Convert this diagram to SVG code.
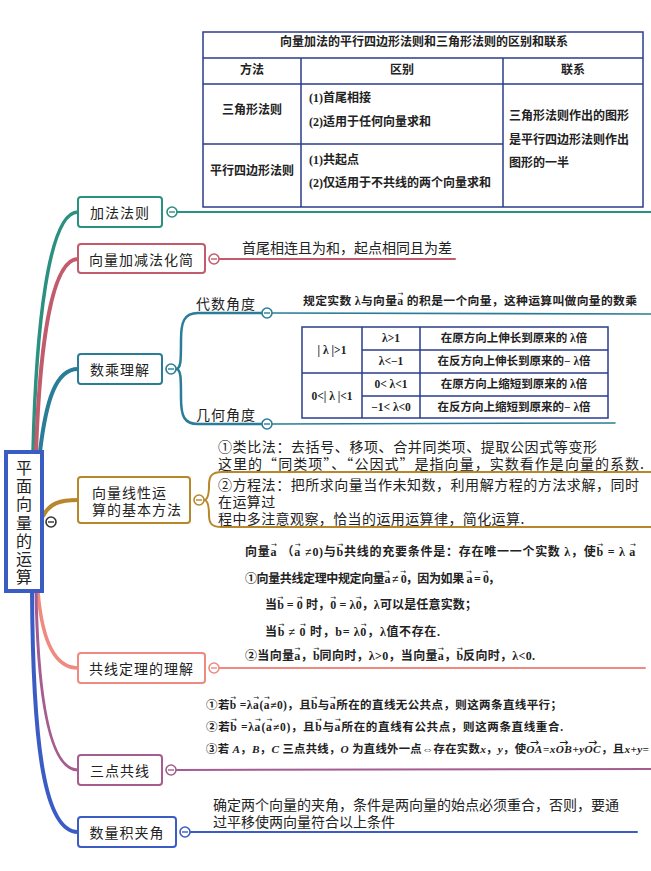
<svg xmlns="http://www.w3.org/2000/svg" width="651" height="871" viewBox="0 0 651 871">
<style>
.node{fill:#fff;stroke-width:2}
.nt{font-family:"Noto Sans CJK SC",sans-serif;font-size:14px;fill:#222;text-anchor:middle;dominant-baseline:central;letter-spacing:1px}
.tt{font-family:"Liberation Serif","Noto Sans CJK SC",serif;font-weight:bold;font-size:12px;fill:#222;dominant-baseline:central}
.st{font-family:"Liberation Serif","Noto Sans CJK SC",serif;font-weight:bold;font-size:11.5px;fill:#222;dominant-baseline:central}
.mt{font-family:"Liberation Serif","Noto Sans CJK SC",serif;font-weight:bold;font-size:12px;fill:#222;dominant-baseline:central}
.pt{font-family:"Noto Sans CJK SC",sans-serif;font-size:14px;fill:#222;dominant-baseline:central}
.ar{font-family:"DejaVu Sans",sans-serif;font-size:7px;font-weight:normal;font-style:normal;baseline-shift:7px}
.c{text-anchor:middle}
.tb{fill:none;stroke:#2b3d8f;stroke-width:1.5}
.col{fill:#fff;stroke-width:1.6}
.conn{fill:none;stroke-linecap:round}
</style>

<!-- connectors -->
<g id="connectors" class="conn">
  <path d="M33,452 C36,330 48,212 78,212" stroke="#2a9080" stroke-width="3.5"/>
  <path d="M36,452 C40,340 52,259 78,259" stroke="#c25b6c" stroke-width="4"/>
  <path d="M40,452 C46,400 56,369 78,369" stroke="#2a7d96" stroke-width="4"/>
  <path d="M43,516 C50,503 60,500 78,500" stroke="#b8862b" stroke-width="4"/>
  <path d="M38,592 C42,640 55,668 78,668" stroke="#ef8a80" stroke-width="3.5"/>
  <path d="M36,592 C38,700 50,770 78,770" stroke="#a45d8e" stroke-width="3"/>
  <path d="M32,592 C33,750 45,832 78,832" stroke="#3b5cc4" stroke-width="4"/>
  <path d="M177,212 L651,212" stroke="#2a9080" stroke-width="2"/>
  <path d="M219,259 L455,259" stroke="#c25b6c" stroke-width="2"/>
  <path d="M176,369 C181,369 181,360 181,340 C181,322 184,313 198,313 L262,313" stroke="#2a7d96" stroke-width="2.5"/>
  <path d="M176,369 C181,369 181,378 181,398 C181,416 184,424 198,424 L262,424" stroke="#2a7d96" stroke-width="2.5"/>
  <path d="M272,313 L651,314" stroke="#2a7d96" stroke-width="1.6"/>
  <path d="M272,424 L615,423" stroke="#2a7d96" stroke-width="1.6"/>
  <path d="M204,500 C209,500 209,490 209,485 C209,476 212,472 222,472 L651,472" stroke="#b8862b" stroke-width="2"/>
  <path d="M204,500 C209,500 209,510 209,515 C209,524 212,527 222,527 L651,527" stroke="#b8862b" stroke-width="2"/>
  <path d="M219,668 L645,668" stroke="#ef8a80" stroke-width="2"/>
  <path d="M176,770 L651,769" stroke="#a45d8e" stroke-width="2"/>
  <path d="M190,832 L637,832" stroke="#3b5cc4" stroke-width="2"/>
</g>

<!-- root -->
<g id="root">
  <rect x="6" y="452" width="36" height="139" fill="#fff" stroke="#3b5cc4" stroke-width="4"/>
  <text x="24" y="460" writing-mode="vertical-rl" style="font-family:'Noto Sans CJK SC',sans-serif;font-size:16px;fill:#222;letter-spacing:2.2px">平面向量的运算</text>
  <circle class="col" cx="51" cy="522" r="5" stroke="#333"/>
  <path d="M48,522 L54,522" stroke="#333" stroke-width="1.4"/>
</g>

<!-- 加法法则 -->
<g id="n-add">
  <rect class="node" x="78" y="197" width="84" height="30" rx="3" stroke="#2a9080"/>
  <text class="nt" x="120" y="212">加法法则</text>
  <circle class="col" cx="172" cy="212" r="5" stroke="#2a9080"/>
  <path d="M169,212 L175,212" stroke="#2a9080" stroke-width="1.4"/>
</g>

<!-- top table -->
<g id="table-add">
  <rect x="203" y="32" width="440" height="175" fill="#fff" class="tb"/>
  <path class="tb" d="M203,58 L643,58 M203,84 L643,84 M203,144 L503,144 M301,58 L301,207 M503,58 L503,207"/>
  <text class="tt c" x="424" y="42">向量加法的平行四边形法则和三角形法则的区别和联系</text>
  <text class="tt c" x="252" y="70">方法</text>
  <text class="tt c" x="402" y="70">区别</text>
  <text class="tt c" x="573" y="70">联系</text>
  <text class="tt c" x="252" y="110">三角形法则</text>
  <text class="tt c" x="252" y="171">平行四边形法则</text>
  <text class="tt" x="309" y="98">(1)首尾相接</text>
  <text class="tt" x="309" y="122">(2)适用于任何向量求和</text>
  <text class="tt" x="309" y="160">(1)共起点</text>
  <text class="tt" x="309" y="183">(2)仅适用于不共线的两个向量求和</text>
  <text class="tt" x="509" y="116">三角形法则作出的图形</text>
  <text class="tt" x="509" y="140">是平行四边形法则作出</text>
  <text class="tt" x="509" y="163">图形的一半</text>
</g>

<!-- 向量加减法化简 -->
<g id="n-simplify">
  <rect class="node" x="78" y="244" width="127" height="29" rx="3" stroke="#c25b6c"/>
  <text class="nt" x="141.5" y="258.5">向量加减法化简</text>
  <circle class="col" cx="214" cy="259" r="5" stroke="#c25b6c"/>
  <path d="M211,259 L217,259" stroke="#c25b6c" stroke-width="1.4"/>
  <text class="pt" x="242" y="247">首尾相连且为和，起点相同且为差</text>
</g>

<!-- 数乘理解 -->
<g id="n-scalar">
  <rect class="node" x="78" y="354" width="84" height="30" rx="3" stroke="#2a7d96"/>
  <text class="nt" x="120" y="369">数乘理解</text>
  <circle class="col" cx="171" cy="369" r="5" stroke="#2a7d96"/>
  <path d="M168,369 L174,369" stroke="#2a7d96" stroke-width="1.4"/>
</g>
<g id="n-alg">
  <text class="nt" x="226" y="303">代数角度</text>
  <circle class="col" cx="267" cy="313" r="5" stroke="#2a7d96"/>
  <path d="M264,313 L270,313" stroke="#2a7d96" stroke-width="1.4"/>
  <text class="st" x="303" y="301" style="font-size:11.8px" textLength="334" lengthAdjust="spacing">规定实数 λ与向量a<tspan class="ar" dx="-6.1">→</tspan> 的积是一个向量，这种运算叫做向量的数乘</text>
</g>
<g id="n-geo">
  <text class="nt" x="226" y="414">几何角度</text>
  <circle class="col" cx="267" cy="424" r="5" stroke="#2a7d96"/>
  <path d="M264,424 L270,424" stroke="#2a7d96" stroke-width="1.4"/>
</g>
<g id="table-scalar">
  <rect x="302" y="327" width="306" height="91" fill="#fff" class="tb"/>
  <path class="tb" d="M362,327 L362,418 M420,327 L420,418 M302,373 L608,373 M362,350 L608,350 M362,396 L608,396"/>
  <text class="st c" x="332" y="350">| λ |&gt;1</text>
  <text class="st c" x="332" y="396">0&lt;| λ |&lt;1</text>
  <text class="st c" x="391" y="338">λ&gt;1</text>
  <text class="st c" x="391" y="361">λ&lt;−1</text>
  <text class="st c" x="391" y="384">0&lt; λ&lt;1</text>
  <text class="st c" x="391" y="407">−1&lt; λ&lt;0</text>
  <text class="st c" x="514" y="338">在原方向上伸长到原来的 λ倍</text>
  <text class="st c" x="514" y="361">在反方向上伸长到原来的− λ倍</text>
  <text class="st c" x="514" y="384">在原方向上缩短到原来的 λ倍</text>
  <text class="st c" x="514" y="407">在反方向上缩短到原来的− λ倍</text>
</g>

<!-- 向量线性运算的基本方法 -->
<g id="n-linear">
  <rect class="node" x="78" y="477" width="112" height="46" rx="3" stroke="#b8862b"/>
  <text class="nt" x="92" y="492" style="text-anchor:start">向量线性运</text>
  <text class="nt" x="92" y="509" style="text-anchor:start">算的基本方法</text>
  <circle class="col" cx="199" cy="500" r="5" stroke="#b8862b"/>
  <path d="M196,500 L202,500" stroke="#b8862b" stroke-width="1.4"/>
  <text class="pt" x="218" y="446" textLength="379" lengthAdjust="spacing">①类比法：去括号、移项、合并同类项、提取公因式等变形</text>
  <text class="pt" x="218" y="463" textLength="426" lengthAdjust="spacing">这里的“同类项”、“公因式”是指向量，实数看作是向量的系数.</text>
  <text class="pt" x="218" y="484" textLength="421" lengthAdjust="spacing">②方程法：把所求向量当作未知数，利用解方程的方法求解，同时</text>
  <text class="pt" x="218" y="501" style="letter-spacing:0.4px">在运算过</text>
  <text class="pt" x="218" y="518" style="letter-spacing:0.4px">程中多注意观察，恰当的运用运算律，简化运算.</text>
</g>

<!-- 共线定理的理解 -->
<g id="n-collinear">
  <rect class="node" x="78" y="653" width="127" height="30" rx="3" stroke="#ef8a80"/>
  <text class="nt" x="141.5" y="668">共线定理的理解</text>
  <circle class="col" cx="214" cy="668" r="5" stroke="#ef8a80"/>
  <path d="M211,668 L217,668" stroke="#ef8a80" stroke-width="1.4"/>
  <text class="mt" x="245" y="552" textLength="391" lengthAdjust="spacing">向量a<tspan class="ar" dx="-6.1">→</tspan> （a<tspan class="ar" dx="-6.1">→</tspan> ≠0)与b<tspan class="ar" dx="-6.5">→</tspan>共线的充要条件是：存在唯一一个实数 λ，使b<tspan class="ar" dx="-6.5">→</tspan> = λ a<tspan class="ar" dx="-6.1">→</tspan></text>
  <text class="mt" x="245" y="579" textLength="255" lengthAdjust="spacing">①向量共线定理中规定向量a<tspan class="ar" dx="-6.1">→</tspan> ≠ 0<tspan class="ar" dx="-6.1">→</tspan>，因为如果 a<tspan class="ar" dx="-6.1">→</tspan> = 0<tspan class="ar" dx="-6.1">→</tspan>，</text>
  <text class="mt" x="265" y="605" textLength="212" lengthAdjust="spacing">当b<tspan class="ar" dx="-6.5">→</tspan> = 0<tspan class="ar" dx="-6.1">→</tspan> 时，0<tspan class="ar" dx="-6.1">→</tspan> = λ0<tspan class="ar" dx="-6.1">→</tspan>，λ可以是任意实数；</text>
  <text class="mt" x="265" y="632" textLength="175" lengthAdjust="spacing">当b<tspan class="ar" dx="-6.5">→</tspan> ≠ 0<tspan class="ar" dx="-6.1">→</tspan> 时，b= λ0<tspan class="ar" dx="-6.1">→</tspan>，λ值不存在.</text>
  <text class="mt" x="245" y="656" textLength="290" lengthAdjust="spacing">②当向量a<tspan class="ar" dx="-6.1">→</tspan>，b<tspan class="ar" dx="-6.5">→</tspan>同向时，λ&gt;0，当向量a<tspan class="ar" dx="-6.1">→</tspan>，b<tspan class="ar" dx="-6.5">→</tspan>反向时，λ&lt;0.</text>
</g>

<!-- 三点共线 -->
<g id="n-three">
  <rect class="node" x="78" y="755" width="84" height="30" rx="3" stroke="#a45d8e"/>
  <text class="nt" x="120" y="770">三点共线</text>
  <circle class="col" cx="171" cy="770" r="5" stroke="#a45d8e"/>
  <path d="M168,770 L174,770" stroke="#a45d8e" stroke-width="1.4"/>
  <text class="st" x="206" y="705" textLength="356" lengthAdjust="spacing">①若b<tspan class="ar" dx="-6.3">→</tspan> =λa<tspan class="ar" dx="-5.9">→</tspan>(a<tspan class="ar" dx="-5.9">→</tspan>≠0)，且b<tspan class="ar" dx="-6.3">→</tspan>与a<tspan class="ar" dx="-5.9">→</tspan>所在的直线无公共点，则这两条直线平行；</text>
  <text class="st" x="206" y="727" textLength="357" lengthAdjust="spacing">②若b<tspan class="ar" dx="-6.3">→</tspan> =λa<tspan class="ar" dx="-5.9">→</tspan>(a<tspan class="ar" dx="-5.9">→</tspan>≠0)，且b<tspan class="ar" dx="-6.3">→</tspan>与a<tspan class="ar" dx="-5.9">→</tspan>所在的直线有公共点，则这两条直线重合.</text>
  <text class="st" x="206" y="749" style="font-size:11.3px" textLength="443" lengthAdjust="spacing">③若 <tspan font-style="italic">A</tspan>，<tspan font-style="italic">B</tspan>，<tspan font-style="italic">C</tspan> 三点共线，<tspan font-style="italic">O</tspan> 为直线外一点⇔存在实数<tspan font-style="italic">x</tspan>，<tspan font-style="italic">y</tspan>，使<tspan font-style="italic">OA</tspan><tspan class="ar" dx="-13" style="font-size:11px">→</tspan><tspan dx="3.8">=</tspan><tspan font-style="italic">xOB</tspan><tspan class="ar" dx="-13" style="font-size:11px">→</tspan><tspan dx="3.8">+</tspan><tspan font-style="italic">yOC</tspan><tspan class="ar" dx="-13" style="font-size:11px">→</tspan><tspan dx="3.8">，且</tspan><tspan font-style="italic">x</tspan>+<tspan font-style="italic">y</tspan>=</text>
</g>

<!-- 数量积夹角 -->
<g id="n-angle">
  <rect class="node" x="78" y="817" width="98" height="30" rx="3" stroke="#3b5cc4"/>
  <text class="nt" x="127" y="832">数量积夹角</text>
  <circle class="col" cx="185" cy="832" r="5" stroke="#3b5cc4"/>
  <path d="M182,832 L188,832" stroke="#3b5cc4" stroke-width="1.4"/>
  <text class="pt" x="213" y="804">确定两个向量的夹角，条件是两向量的始点必须重合，否则，要通</text>
  <text class="pt" x="213" y="821">过平移使两向量符合以上条件</text>
</g>
</svg>
